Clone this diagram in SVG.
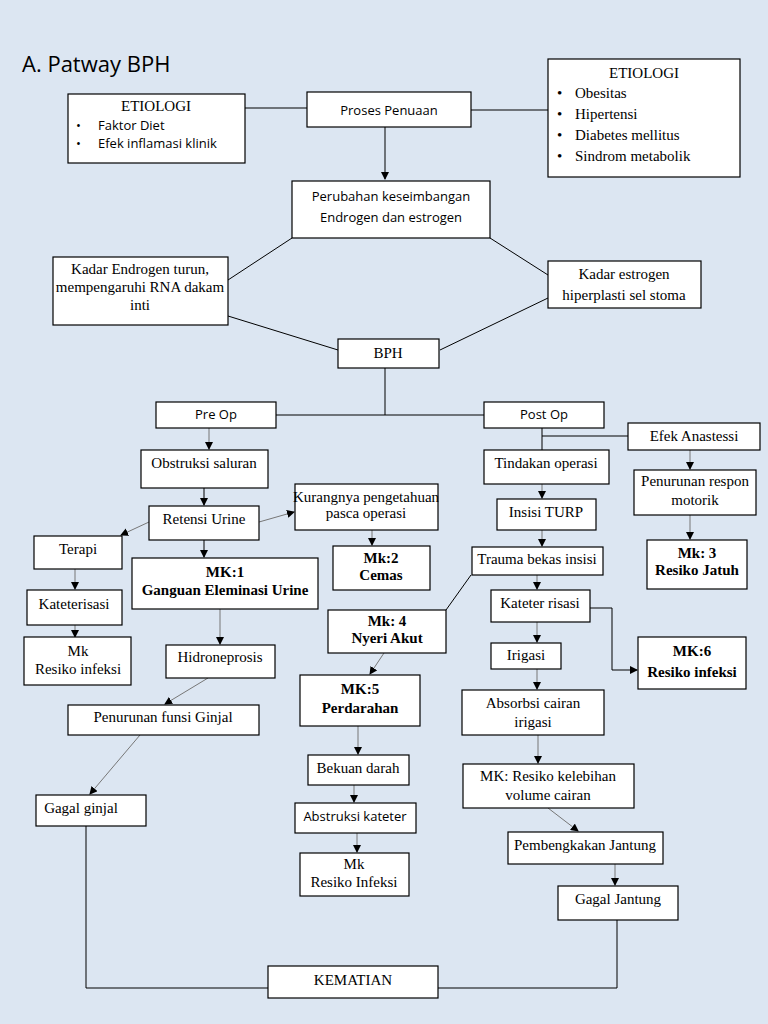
<svg xmlns="http://www.w3.org/2000/svg" width="768" height="1024" viewBox="0 0 768 1024">
<defs>
<marker id="ar" markerWidth="8" markerHeight="8" refX="7" refY="4" orient="auto" markerUnits="userSpaceOnUse"><path d="M0,0 L8,4 L0,8 Z" fill="#000"/></marker>
<style>
.b{fill:#fff;stroke:#000;stroke-width:1.2}
.s{font-family:"Liberation Serif",serif;font-size:15px;fill:#000;text-anchor:middle}
.ss{font-family:"Open Sans","Liberation Sans",sans-serif;font-size:13px;fill:#000;text-anchor:middle}
.bd{font-weight:bold}
.l{stroke:#000;stroke-width:1;fill:none}
.g{stroke:#777;stroke-width:1;fill:none}
.a{marker-end:url(#ar)}
</style>
</defs>
<rect width="768" height="1024" fill="#dce6f2"/>
<text x="22" y="72" font-family="Open Sans, Liberation Sans, sans-serif" font-size="22">A. Patway BPH</text>
<g id="connectors">
<path class="l" d="M245,108H307M471,110H548"/>
<path class="l a" d="M385,127V179"/>
<path class="l" d="M292,238L228,280M490,238L548,275M228,316L338,350M548,298L440,350"/>
<path class="l" d="M385,368V415M276,415H484"/>
<path class="g a" d="M209,428V449"/>
<path class="l a" d="M204,488V505"/>
<path class="g a" d="M149,522L121,535"/>
<path class="g a" d="M75,569V589"/>
<path class="g a" d="M75,625V637"/>
<path class="l a" d="M204,540V557"/>
<path class="g a" d="M220,609V644"/>
<path class="g a" d="M208,678L165,704"/>
<path class="g a" d="M140,735L90,794"/>
<path class="l" d="M86,826V988H268M438,988H617V920"/>
<path class="g a" d="M259,522L294,512"/>
<path class="g a" d="M372,530V545"/>
<path class="l" d="M542,428V450M542,436H628"/>
<path class="g a" d="M690,450V469"/>
<path class="g a" d="M690,515V539"/>
<path class="g a" d="M542,484V498"/>
<path class="g a" d="M542,530V546"/>
<path class="l" d="M471,575L446,610"/>
<path class="g a" d="M537,575V589"/>
<path class="g a" d="M537,622V642"/>
<path class="l a" d="M590,608H612V670H637"/>
<path class="g a" d="M537,669V689"/>
<path class="g a" d="M538,735V763"/>
<path class="g a" d="M548,808L578,831"/>
<path class="g a" d="M615,864V885"/>
<path class="g a" d="M384,653L370,674"/>
<path class="g a" d="M358,726V754"/>
<path class="g a" d="M354,785V802"/>
<path class="g a" d="M357,833V852"/>
</g>
<g id="etiologi-left"><rect class="b" x="68" y="94" width="177" height="69"/><text class="s" x="156" y="111">ETIOLOGI</text>
<g font-family="Open Sans, Liberation Sans, sans-serif" font-size="13"><text x="76" y="130">•</text><text x="98" y="130">Faktor Diet</text><text x="76" y="148">•</text><text x="98" y="148">Efek inflamasi klinik</text></g></g>
<g id="proses"><rect class="b" x="307" y="92" width="164" height="35"/><text class="ss" x="389" y="115" font-size="16">Proses Penuaan</text></g>
<g id="etiologi-right"><rect class="b" x="548" y="59" width="192" height="118"/><text class="s" x="644" y="78">ETIOLOGI</text>
<g font-family="Liberation Serif, serif" font-size="15"><text x="557" y="98">•</text><text x="575" y="98">Obesitas</text><text x="557" y="119">•</text><text x="575" y="119">Hipertensi</text><text x="557" y="140">•</text><text x="575" y="140">Diabetes mellitus</text><text x="557" y="161">•</text><text x="575" y="161">Sindrom metabolik</text></g></g>
<g id="perubahan"><rect class="b" x="292" y="181" width="198" height="57"/><text class="ss" x="391" y="201">Perubahan keseimbangan</text><text class="ss" x="391" y="222">Endrogen dan estrogen</text></g>
<g id="kadar-endrogen"><rect class="b" x="53" y="257" width="175" height="68"/><text class="s" x="140" y="274" font-size="14">Kadar Endrogen turun,</text><text class="s" x="140" y="292" font-size="14">mempengaruhi RNA dakam</text><text class="s" x="140" y="310" font-size="14">inti</text></g>
<g id="kadar-estrogen"><rect class="b" x="548" y="261" width="153" height="47"/><text class="s" x="624" y="279">Kadar estrogen</text><text class="s" x="624" y="300">hiperplasti sel stoma</text></g>
<g id="bph"><rect class="b" x="338" y="339" width="101" height="29"/><text class="s" x="388" y="358">BPH</text></g>
<g id="preop"><rect class="b" x="156" y="402" width="120" height="26"/><text class="ss" x="216" y="419" font-size="12">Pre Op</text></g>
<g id="postop"><rect class="b" x="484" y="402" width="120" height="26"/><text class="ss" x="544" y="419" font-size="12">Post Op</text></g>
<g id="obstruksi"><rect class="b" x="141" y="450" width="127" height="38"/><text class="s" x="204" y="468">Obstruksi saluran</text></g>
<g id="retensi"><rect class="b" x="149" y="506" width="110" height="34"/><text class="s" x="204" y="524">Retensi Urine</text></g>
<g id="terapi"><rect class="b" x="34" y="536" width="88" height="33"/><text class="s" x="78" y="554">Terapi</text></g>
<g id="kateterisasi"><rect class="b" x="27" y="590" width="95" height="35"/><text class="s" x="74" y="609">Kateterisasi</text></g>
<g id="mk-infeksi1"><rect class="b" x="24" y="637" width="107" height="48"/><text class="s" x="78" y="656">Mk</text><text class="s" x="78" y="674">Resiko infeksi</text></g>
<g id="mk1"><rect class="b" x="132" y="558" width="186" height="51"/><text class="s bd" x="225" y="577">MK:1</text><text class="s bd" x="225" y="595">Ganguan Eleminasi Urine</text></g>
<g id="hidroneprosis"><rect class="b" x="166" y="645" width="109" height="33"/><text class="s" x="220" y="662" font-size="14">Hidroneprosis</text></g>
<g id="penurunan-ginjal"><rect class="b" x="68" y="705" width="191" height="30"/><text class="s" x="163" y="722" font-size="14">Penurunan funsi Ginjal</text></g>
<g id="gagal-ginjal"><rect class="b" x="36" y="795" width="110" height="31"/><text class="s" x="81" y="813" font-size="14">Gagal ginjal</text></g>
<g id="kurang"><rect class="b" x="295" y="484" width="143" height="46"/><text class="s" x="366" y="502" font-size="12">Kurangnya pengetahuan</text><text class="s" x="366" y="518" font-size="12">pasca operasi</text></g>
<g id="mk2"><rect class="b" x="333" y="546" width="97" height="44"/><text class="s bd" x="381" y="563">Mk:2</text><text class="s bd" x="381" y="580">Cemas</text></g>
<g id="efek"><rect class="b" x="628" y="423" width="132" height="27"/><text class="s" x="694" y="441" font-size="14">Efek Anastessi</text></g>
<g id="respon"><rect class="b" x="634" y="470" width="122" height="45"/><text class="s" x="695" y="486" font-size="14">Penurunan respon</text><text class="s" x="695" y="505" font-size="14">motorik</text></g>
<g id="mk3"><rect class="b" x="647" y="540" width="100" height="49"/><text class="s bd" x="697" y="558">Mk: 3</text><text class="s bd" x="697" y="575">Resiko Jatuh</text></g>
<g id="tindakan"><rect class="b" x="484" y="450" width="125" height="34"/><text class="s" x="546" y="468" font-size="16">Tindakan operasi</text></g>
<g id="turp"><rect class="b" x="497" y="499" width="99" height="31"/><text class="s" x="546" y="517" font-size="16">Insisi TURP</text></g>
<g id="trauma"><rect class="b" x="472" y="547" width="131" height="28"/><text class="s" x="537" y="564" font-size="14">Trauma bekas insisi</text></g>
<g id="mk4"><rect class="b" x="328" y="610" width="118" height="43"/><text class="s bd" x="387" y="626">Mk: 4</text><text class="s bd" x="387" y="643">Nyeri Akut</text></g>
<g id="kateter"><rect class="b" x="491" y="590" width="99" height="32"/><text class="s" x="540" y="608">Kateter risasi</text></g>
<g id="irigasi"><rect class="b" x="491" y="643" width="70" height="26"/><text class="s" x="526" y="660">Irigasi</text></g>
<g id="mk6"><rect class="b" x="638" y="637" width="108" height="52"/><text class="s bd" x="692" y="656" font-size="16">MK:6</text><text class="s bd" x="692" y="677">Resiko infeksi</text></g>
<g id="absorbsi"><rect class="b" x="462" y="690" width="142" height="45"/><text class="s" x="533" y="708">Absorbsi cairan</text><text class="s" x="533" y="727">irigasi</text></g>
<g id="mk-kelebihan"><rect class="b" x="463" y="764" width="171" height="44"/><text class="s" x="548" y="781">MK: Resiko kelebihan</text><text class="s" x="548" y="800">volume cairan</text></g>
<g id="pembengkakan"><rect class="b" x="508" y="832" width="155" height="32"/><text class="s" x="585" y="850" font-size="14">Pembengkakan Jantung</text></g>
<g id="gagal-jantung"><rect class="b" x="558" y="886" width="120" height="34"/><text class="s" x="618" y="904">Gagal Jantung</text></g>
<g id="mk5"><rect class="b" x="300" y="675" width="120" height="51"/><text class="s bd" x="360" y="694" font-size="16">MK:5</text><text class="s bd" x="360" y="713" font-size="16">Perdarahan</text></g>
<g id="bekuan"><rect class="b" x="308" y="755" width="101" height="30"/><text class="s" x="358" y="773" font-size="14">Bekuan darah</text></g>
<g id="abstruksi"><rect class="b" x="295" y="803" width="121" height="30"/><text class="ss" x="355" y="821" font-size="12">Abstruksi kateter</text></g>
<g id="mk-infeksi2"><rect class="b" x="300" y="853" width="109" height="43"/><text class="s" x="354" y="869">Mk</text><text class="s" x="354" y="887">Resiko Infeksi</text></g>
<g id="kematian"><rect class="b" x="268" y="966" width="170" height="32"/><text class="s" x="353" y="985">KEMATIAN</text></g>
</svg>
